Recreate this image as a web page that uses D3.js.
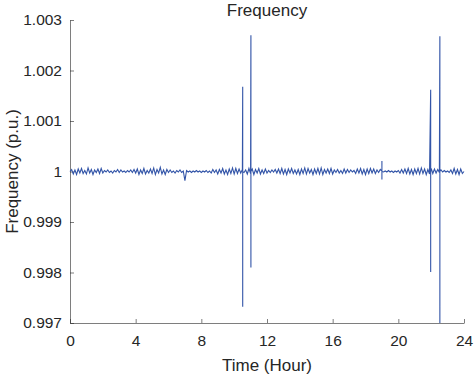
<!DOCTYPE html>
<html>
<head>
<meta charset="utf-8">
<script src="https://cdn.jsdelivr.net/npm/d3@7"></script>
<style>
  body { margin: 0; background: #fff; }
  text { font-family: "Liberation Sans", Arial, sans-serif; fill: #262626; }
</style>
</head>
<body>
<svg id="chart" width="474" height="375"></svg>
<script>
// frequency deviation around 1 p.u., in units of 1e-5, one value every 0.1 h
var noise = [
  0,4,-5,3,-6,5,-3,6,-4,2,
  -5,7,-3,4,-6,3,-2,5,-4,6,
  -3,2,-1,3,-2,1,-3,2,-1,4,
  -2,3,-1,1,-2,2,-1,3,-2,4,
  -3,5,-6,3,-4,6,-5,2,-3,5,
  -4,7,-6,4,-3,8,-5,3,-6,4,
  -2,3,-2,1,-3,2,-1,3,-2,1,
  -18,2,-1,1,-2,1,-1,2,-1,1,
  -2,1,-1,2,-2,1,-3,4,-2,3,
  -5,4,-3,6,-5,3,-6,5,-4,7,
  -5,6,-4,5,-3,4,-2,3,-5,6,
  -4,5,-6,4,-3,6,-5,3,-4,5,
  -3,2,-2,3,-1,4,-3,5,-4,6,
  -5,4,-6,5,-3,6,-4,3,-5,4,
  -6,5,-4,7,-5,6,-3,4,-6,5,
  -4,6,-5,7,-6,4,-3,5,-4,6,
  -5,3,-2,4,-3,2,-4,5,-3,4,
  -2,3,-1,2,-4,5,-3,6,-5,4,
  -6,5,-4,6,-3,5,-4,3,-2,4,
  1,-1,1,-1,2,-1,1,-2,1,-1,
  2,-3,4,-3,5,-4,6,-5,4,-6,
  5,-4,6,-5,7,-4,5,-6,4,-5,
  6,-4,5,-3,4,-2,3,-1,2,-1,
  1,-2,3,-4,6,-5,4,-6,5,-4,
  0
];
var noiseStep = 0.1;

// switching events: time, peak and dip of the frequency
var spikeHour = [10.52, 11.02, 19.0, 21.97, 22.53];
var spikeHigh = [1.00168, 1.0027, 1.00021, 1.00162, 1.00268];
var spikeLow  = [0.99732, 0.99810, 0.99984, 0.99801, 0.99700];

var xTicks = [0, 4, 8, 12, 16, 20, 24];
var yTicks = [0.997, 0.998, 0.999, 1, 1.001, 1.002, 1.003];

// build series
var series = noise.map(function(n, i) { return {t: i * noiseStep, f: 1 + n * 1e-5}; });
spikeHour.forEach(function(h, i) {
  series.push({t: h, f: spikeHigh[i]});
  series.push({t: h + 0.0001, f: spikeLow[i]});
  series.push({t: h + 0.0002, f: 1});
});
series.sort(function(a, b) { return a.t - b.t; });

var svg = d3.select("#chart");
var padL = 70, padR = 464, padT = 20, padB = 323;

var x = d3.scaleLinear().domain([0, 24]).range([padL, padR]);
var y = d3.scaleLinear().domain([0.997, 1.003]).range([padB, padT]);

// axes (MATLAB style, box off, ticks inside)
var xAxis = d3.axisBottom(x).tickValues(xTicks).tickSizeInner(-4).tickSizeOuter(0).tickPadding(12);
var yAxis = d3.axisLeft(y).tickValues(yTicks).tickSizeInner(-4).tickSizeOuter(0).tickPadding(8)
  .tickFormat(function(d) { return String(+d.toFixed(3)); });

var gx = svg.append("g").attr("transform", "translate(0," + padB + ")").call(xAxis);
var gy = svg.append("g").attr("transform", "translate(" + padL + ",0)").call(yAxis);
[gx, gy].forEach(function(g) {
  g.selectAll("path, line").attr("stroke", "#262626").attr("stroke-width", 0.6);
  g.selectAll("text").style("font-size", "15.5px").attr("fill", "#262626");
});

// line
svg.append("path")
  .datum(series)
  .attr("fill", "none")
  .attr("stroke", "#3355a8")
  .attr("stroke-width", 1.1)
  .attr("d", d3.line().x(function(d) { return x(d.t); }).y(function(d) { return y(d.f); }));

// title and labels
svg.append("text").attr("x", (padL + padR) / 2).attr("y", 16)
  .attr("text-anchor", "middle").style("font-size", "17px").text("Frequency");
svg.append("text").attr("x", (padL + padR) / 2).attr("y", 371)
  .attr("text-anchor", "middle").style("font-size", "17px").text("Time (Hour)");
svg.append("text").attr("transform", "translate(18," + (padT + padB) / 2 + ") rotate(-90)")
  .attr("text-anchor", "middle").style("font-size", "17px").text("Frequency (p.u.)");
</script>
</body>
</html>
